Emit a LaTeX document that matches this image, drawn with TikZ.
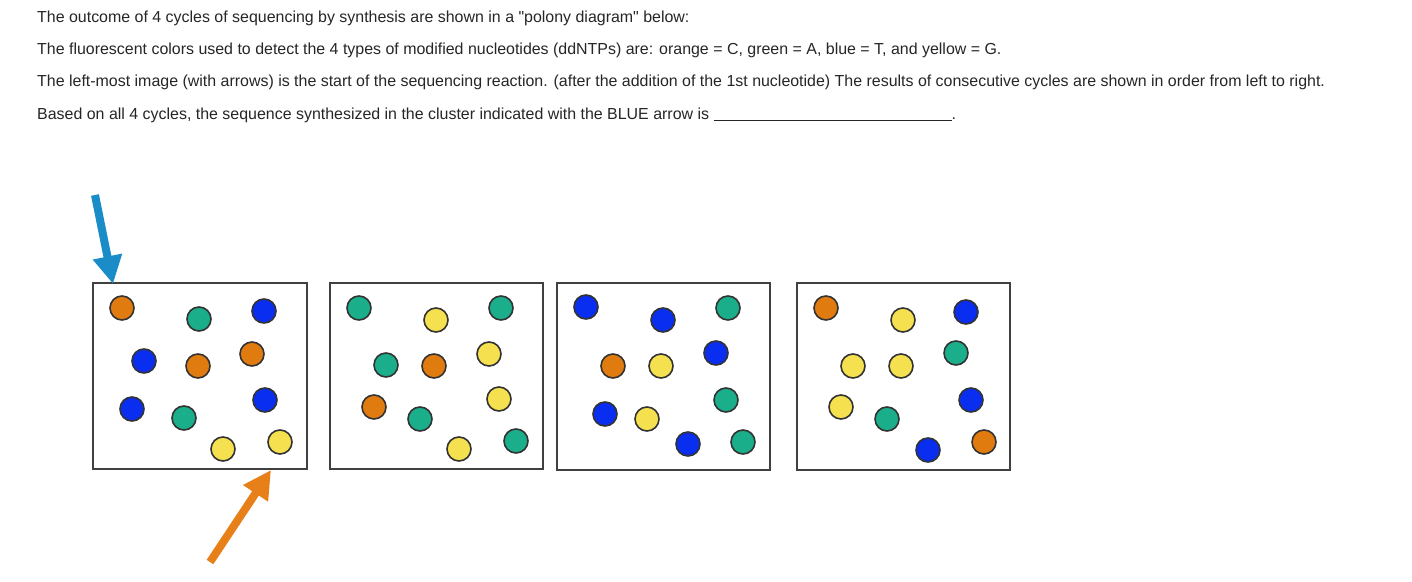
\documentclass[tikz,border=0pt]{standalone}
\usepackage{fontspec}
\setmainfont{Liberation Sans}
\usetikzlibrary{arrows.meta}
\definecolor{cO}{HTML}{E07B10}
\definecolor{cG}{HTML}{1AAE8A}
\definecolor{cB}{HTML}{0A2EF0}
\definecolor{cY}{HTML}{F5E050}
\definecolor{aB}{HTML}{1A8CC8}
\definecolor{aO}{HTML}{E8801A}
\begin{document}
\begin{tikzpicture}[x=1pt,y=-1pt,
  txt/.style={anchor=base west,inner sep=0pt,font=\fontsize{15.95}{18}\selectfont,text=black!85},
  panel/.style={draw=black!75,line width=2pt},
  dot/.style={circle,draw=black!80,line width=1.6pt,minimum size=24pt,inner sep=0pt},
  bigarrow/.style={line width=8pt,-{Triangle[length=28pt,width=28pt]}}]
\useasboundingbox (0,0) rectangle (1412,581);
\fill[white] (0,0) rectangle (1412,581);
\node[txt] (t1) at (37,22) {The outcome of 4 cycles of sequencing by synthesis are shown in a \textquotedbl polony diagram\textquotedbl{} below:};
\node[txt] (t2) at (37,54) {The fluorescent colors used to detect the 4 types of modified nucleotides (ddNTPs) are: orange = C, green = A, blue = T, and yellow = G.};
\node[txt] (t3) at (37,86) {The left-most image (with arrows) is the start of the sequencing reaction. (after the addition of the 1st nucleotide) The results of consecutive cycles are shown in order from left to right.};
\node[txt] (t4) at (37,119) {Based on all 4 cycles, the sequence synthesized in the cluster indicated with the BLUE arrow is \rule[-2pt]{238pt}{0.8pt}.};
\draw[panel] (93,283) rectangle (307,469);
\draw[panel] (330,283) rectangle (543,469);
\draw[panel] (557,283) rectangle (770,470);
\draw[panel] (797,283) rectangle (1010,470);
\foreach \x/\y/\c [count=\i] in {
 122/308/cO,199/319/cG,264/311/cB,144/361/cB,198/366/cO,252/354/cO,132/409/cB,184/418/cG,265/400/cB,223/449/cY,280/442/cY,
 359/308/cG,436/320/cY,501/308/cG,386/365/cG,434/366/cO,489/354/cY,374/407/cO,420/419/cG,499/399/cY,459/449/cY,516/441/cG,
 586/307/cB,663/320/cB,728/308/cG,613/366/cO,661/366/cY,716/353/cB,605/414/cB,647/419/cY,726/400/cG,688/444/cB,743/442/cG,
 826/308/cO,903/320/cY,966/312/cB,853/366/cY,901/366/cY,956/353/cG,841/407/cY,887/419/cG,971/400/cB,928/450/cB,984/442/cO}
 \node[dot,fill=\c] (d\i) at (\x,\y) {};
\coordinate (bs) at (95,195);
\coordinate (be) at (113,284);
\coordinate (os) at (210,562);
\coordinate (oe) at (271,470);
\draw[bigarrow,draw=aB,fill=aB] (bs) -- (be);
\draw[bigarrow,draw=aO,fill=aO] (os) -- (oe);
\end{tikzpicture}
\end{document}
